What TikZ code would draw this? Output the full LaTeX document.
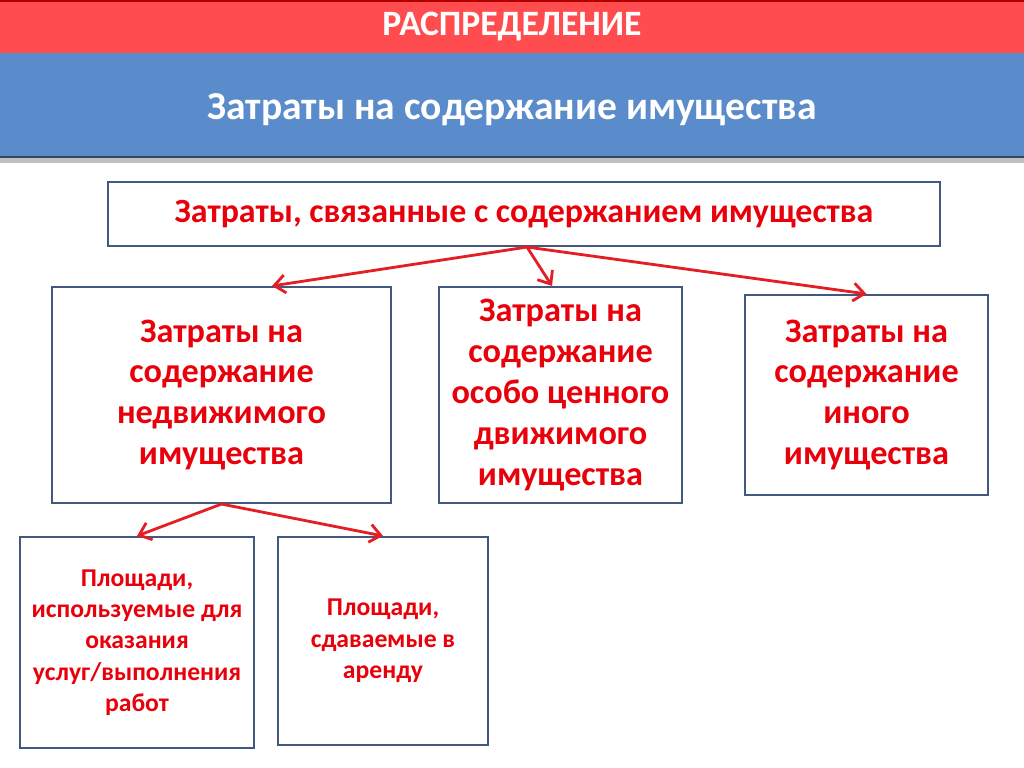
\documentclass[tikz,border=0pt]{standalone}
\usepackage{fontspec}
\setmainfont{Carlito}
\usetikzlibrary{arrows.meta}

\definecolor{bannerred}{HTML}{FF4D4F}
\definecolor{bannerblue}{HTML}{5A8BCB}
\definecolor{boxline}{HTML}{41597F}
\definecolor{textred}{HTML}{E8000B}
\definecolor{arrowred}{HTML}{E31E24}

\tikzset{
  costbox/.style={draw=boxline, line width=1.2pt, fill=white, align=center,
    text=textred, font=\bfseries\fontsize{19.5}{23.3}\selectfont},
  smallbox/.style={costbox, font=\bfseries\fontsize{14.6}{17.8}\selectfont},
  link/.style={draw=arrowred, line width=1.6pt, -{Straight Barb[length=2.2mm,width=3.6mm]}}
}

\begin{document}
\begin{tikzpicture}
\useasboundingbox (0,0) rectangle (20.48,-15.36);
% banners
\fill[bannerred] (0,0) rectangle (20.48,-1.06);
\draw[red!70!black, line width=0.6pt] (0,-0.02) -- (20.48,-0.02);
\fill[black!25] (0,-1.14) rectangle (20.48,-3.26);
\fill[bannerblue] (0,-1.06) rectangle (20.48,-3.14);
\draw[boxline!80!black, line width=1.2pt] (0,-3.14) -- (20.48,-3.14);
\draw (10.24,-0.54) node (head) [text=white, font=\bfseries\fontsize{20.3}{24}\selectfont] {РАСПРЕДЕЛЕНИЕ};
\draw (10.24,-2.2) node (title) [text=white, font=\bfseries\fontsize{22.5}{27}\selectfont] {Затраты на содержание имущества};
% boxes
\draw (10.48,-4.28) node (top) [costbox, minimum width=16.64cm, minimum height=1.28cm,
  font=\bfseries\fontsize{19.3}{23}\selectfont] {Затраты, связанные с содержанием имущества};
\draw (4.43,-7.9) node (fixed) [costbox, minimum width=6.78cm, minimum height=4.32cm]
  {Затраты на\\содержание\\недвижимого\\имущества};
\draw (11.21,-7.9) node (valuable) [costbox, minimum width=4.86cm, minimum height=4.32cm]
  {Затраты на\\содержание\\особо ценного\\движимого\\имущества};
\draw (17.33,-7.9) node (other) [costbox, minimum width=4.86cm, minimum height=4.0cm]
  {Затраты на\\содержание\\иного\\имущества};
\draw (2.74,-12.85) node (own) [smallbox, minimum width=4.68cm, minimum height=4.22cm]
  {Площади,\\используемые для\\оказания\\услуг/выполнения\\работ};
\draw (7.66,-12.82) node (rent) [smallbox, minimum width=4.2cm, minimum height=4.16cm]
  {Площади,\\сдаваемые в\\аренду};
% arrows
\draw[link] ([xshift=0.06cm]top.south) -- ([xshift=1.01cm]fixed.north);
\draw[link] ([xshift=0.06cm]top.south) -- ([xshift=-0.17cm]valuable.north);
\draw[link] ([xshift=0.06cm]top.south) -- (other.north);
\draw[link] (fixed.south) -- (own.north);
\draw[link] (fixed.south) -- (rent.north);
\end{tikzpicture}
\end{document}
